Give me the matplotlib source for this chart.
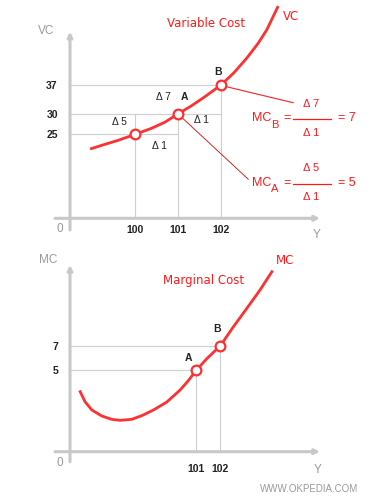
import matplotlib
matplotlib.use("Agg")
import matplotlib.pyplot as plt

plt.rcParams["font.family"] = ["Liberation Sans", "DejaVu Sans"]

# =====================================================
# DATA
# =====================================================

# variable cost curve (quantity, cost)
vc_q = [98.94, 99.29, 99.60, 100.0, 100.38, 100.70, 101.0, 101.32, 101.63,
        102.0, 102.30, 102.61, 102.88, 103.08, 103.23, 103.35]
vc_c = [21.40, 22.55, 23.53, 25.0, 26.47, 28.0, 30.0, 32.0, 34.2,
        37.0, 39.94, 43.61, 47.29, 50.54, 53.80, 56.42]

# marked points on the VC curve
vc_pts_q = [100, 101, 102]
vc_pts_c = [25, 30, 37]
vc_hline_end = [101, 102, 102]   # how far each level line runs
vc_vline_top = [30, 30, 37]      # how high each quantity line runs

# marginal cost curve
mc_q = [96.23, 96.43, 96.71, 97.12, 97.53, 97.87, 98.35, 98.78, 99.24,
        99.79, 100.34, 100.68, 101.0, 101.44, 102.0, 102.53, 103.09,
        103.63, 104.12]
mc_c = [3.29, 2.48, 1.81, 1.33, 1.06, 0.98, 1.06, 1.37, 1.81,
        2.45, 3.42, 4.18, 5.0, 5.95, 7.0, 8.51, 10.02,
        11.49, 12.97]

mc_pts_q = [101, 102]
mc_pts_c = [5, 7]

RED = "#ff3030"
TXT_RED = "#ff1a1a"
AX_GRAY = "#c8c8c8"
GRID_GRAY = "#cfcfcf"
LBL_GRAY = "#9a9a9a"

W, H = 370, 500


def rect(left, top, right, bottom):
    return [left / W, 1 - bottom / H, (right - left) / W, (bottom - top) / H]


def setup_axes(ax, y_ext, xpad, ypad):
    for s in ax.spines.values():
        s.set_visible(False)
    ax.annotate("", xy=(1, 0), xytext=(-0.06, 0), xycoords="axes fraction",
                arrowprops=dict(arrowstyle="-|>", color=AX_GRAY, lw=2.2,
                                mutation_scale=7, shrinkA=0, shrinkB=0))
    ax.annotate("", xy=(0, 1), xytext=(0, y_ext), xycoords="axes fraction",
                arrowprops=dict(arrowstyle="-|>", color=AX_GRAY, lw=2.2,
                                mutation_scale=7, shrinkA=0, shrinkB=0))
    ax.tick_params(length=0, labelsize=7.5, labelcolor="#222222")
    ax.tick_params(axis="x", pad=xpad)
    ax.tick_params(axis="y", pad=ypad)
    for lbl in ax.get_xticklabels() + ax.get_yticklabels():
        lbl.set_fontweight("bold")


fig = plt.figure(figsize=(W / 100, H / 100), dpi=100)

# =====================================================
# TOP: VARIABLE COST
# =====================================================

ax1 = fig.add_axes(rect(70, 31.7, 320, 218.3))
ax1.set_xlim(98.47, 104.33)
ax1.set_ylim(4.43, 50.13)
ax1.set_xticks(vc_pts_q, [str(v) for v in vc_pts_q])
ax1.set_yticks(vc_pts_c, [str(v) for v in vc_pts_c])
setup_axes(ax1, -0.063, 5, 8.8)

for c, xe in zip(vc_pts_c, vc_hline_end):
    ax1.plot([98.47, xe], [c, c], color=GRID_GRAY, lw=0.8, zorder=1)
for q, yt in zip(vc_pts_q, vc_vline_top):
    ax1.plot([q, q], [4.43, yt], color=GRID_GRAY, lw=0.8, zorder=1)

# leader lines to the formulas
ax1.plot([102, 103.70], [37, 32.74], color="#ff2020", lw=0.8, zorder=2,
         clip_on=False)
ax1.plot([101, 102.65], [30, 13.98], color="#dd0000", lw=0.6, zorder=2,
         clip_on=False)

ax1.plot(vc_q, vc_c, color=RED, lw=2.0, clip_on=False, zorder=3,
         solid_capstyle="butt", solid_joinstyle="round")
ax1.plot(vc_pts_q, vc_pts_c, "o", ms=7, mfc="white", mec=RED, mew=1.6,
         zorder=4, clip_on=False)

ax1.text(101.67, 52.19, "Variable Cost", color=TXT_RED, fontsize=8.5,
         family="DejaVu Sans", ha="center", va="center")
ax1.text(103.46, 53.80, "VC", color=TXT_RED, fontsize=8.5,
         family="DejaVu Sans", ha="left", va="center")
ax1.text(97.90, 50.30, "VC", color=LBL_GRAY, fontsize=8.5, ha="center",
         va="center")
ax1.text(98.24, 1.8, "0", color=LBL_GRAY, fontsize=8.5, ha="center",
         va="center")
ax1.text(104.25, 0.34, "Y", color=LBL_GRAY, fontsize=8.5, ha="center",
         va="center")

bold = dict(fontsize=7.5, fontweight="bold", color="#222222",
            ha="center", va="center")
ax1.text(101.94, 40.33, "B", **bold)
ax1.text(101.15, 34.06, "A", **bold)

delta = dict(fontsize=7.5, color="#222222", ha="center", va="center")
ax1.text(100.65, 34.14, "Δ 7", **delta)
ax1.text(99.62, 28.01, "Δ 5", **delta)
ax1.text(100.56, 22.21, "Δ 1", **delta)
ax1.text(101.56, 28.50, "Δ 1", **delta)

# MC_B and MC_A formulas
red_txt = dict(color=TXT_RED, va="center")
for sub, top, val, yc, ysub in [("B", "Δ 7", "7", 28.99, 27.28),
                                 ("A", "Δ 5", "5", 13.15, 11.60)]:
    ax1.text(102.73, yc, "MC", fontsize=9, ha="left", **red_txt)
    ax1.text(103.27, ysub, sub, fontsize=8, ha="center", **red_txt)
    ax1.text(103.55, yc, "=", fontsize=9, ha="center", **red_txt)
    ax1.text(104.13, yc + 3.5, top, fontsize=8, ha="center", **red_txt)
    ax1.plot([103.70, 104.58], [yc - 0.3, yc - 0.3], color=TXT_RED, lw=0.9,
             clip_on=False)
    ax1.text(104.13, yc - 3.6, "Δ 1", fontsize=8, ha="center", **red_txt)
    ax1.text(104.97, yc, "= " + val, fontsize=9, ha="center", **red_txt)

# =====================================================
# BOTTOM: MARGINAL COST
# =====================================================

ax2 = fig.add_axes(rect(70, 265, 320, 451.7))
ax2.set_xlim(95.81, 106.10)
ax2.set_ylim(-1.55, 13.51)
ax2.set_xticks(mc_pts_q, [str(v) for v in mc_pts_q])
ax2.set_yticks(mc_pts_c, [str(v) for v in mc_pts_c])
setup_axes(ax2, -0.054, 8.5, 8.5)

for q, c in zip(mc_pts_q, mc_pts_c):
    ax2.plot([95.81, q], [c, c], color=GRID_GRAY, lw=0.8, zorder=1)
    ax2.plot([q, q], [-1.55, c], color=GRID_GRAY, lw=0.8, zorder=1)

ax2.plot(mc_q, mc_c, color=RED, lw=2.0, clip_on=False, zorder=3,
         solid_joinstyle="round")
ax2.plot(mc_pts_q, mc_pts_c, "o", ms=7, mfc="white", mec=RED, mew=1.6,
         zorder=4, clip_on=False)

ax2.text(101.30, 12.24, "Marginal Cost", color=TXT_RED, fontsize=8.5,
         family="DejaVu Sans", ha="center", va="center")
ax2.text(104.66, 13.85, "MC", color=TXT_RED, fontsize=8.5,
         family="DejaVu Sans", ha="center", va="center")
ax2.text(94.90, 13.91, "MC", color=LBL_GRAY, fontsize=8.5, ha="center",
         va="center")
ax2.text(95.40, -2.48, "0", color=LBL_GRAY, fontsize=8.5, ha="center",
         va="center")
ax2.text(106.01, -3.02, "Y", color=LBL_GRAY, fontsize=8.5, ha="center",
         va="center")
ax2.text(101.88, 8.32, "B", **bold)
ax2.text(100.68, 5.98, "A", **bold)

fig.text(358 / W, 1 - 489.3 / H, "WWW.OKPEDIA.COM", color=LBL_GRAY,
         fontsize=7, ha="right", va="center")

fig.savefig("out.png", dpi=100)
